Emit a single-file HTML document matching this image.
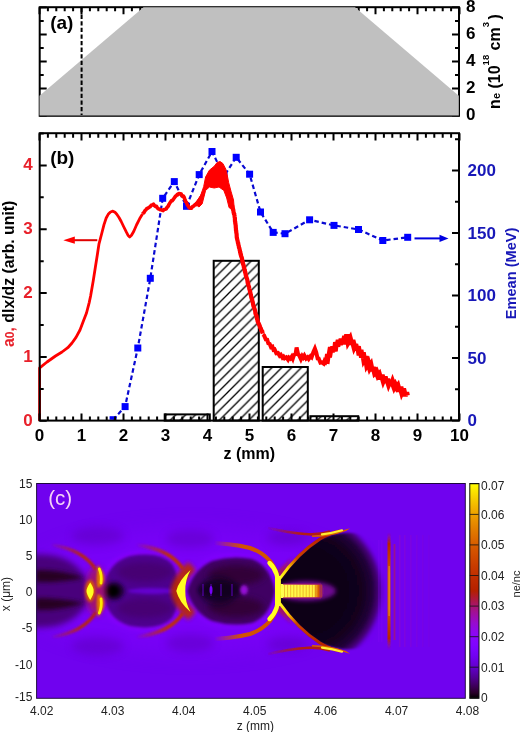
<!DOCTYPE html>
<html><head><meta charset="utf-8"><title>Figure</title>
<style>html,body{margin:0;padding:0;background:#fff;overflow:hidden;width:520px;height:732px;}svg{display:block;}</style></head>
<body><svg width="520" height="732" viewBox="0 0 520 732">
<rect width="520" height="732" fill="#fff"/>
<path d="M39.50 7.2v7M47.90 7.2v4M56.30 7.2v4M64.70 7.2v4M73.10 7.2v4M81.50 7.2v7M89.90 7.2v4M98.30 7.2v4M106.70 7.2v4M115.10 7.2v4M123.50 7.2v7M131.90 7.2v4M140.30 7.2v4M148.70 7.2v4M157.10 7.2v4M165.50 7.2v7M173.90 7.2v4M182.30 7.2v4M190.70 7.2v4M199.10 7.2v4M207.50 7.2v7M215.90 7.2v4M224.30 7.2v4M232.70 7.2v4M241.10 7.2v4M249.50 7.2v7M257.90 7.2v4M266.30 7.2v4M274.70 7.2v4M283.10 7.2v4M291.50 7.2v7M299.90 7.2v4M308.30 7.2v4M316.70 7.2v4M325.10 7.2v4M333.50 7.2v7M341.90 7.2v4M350.30 7.2v4M358.70 7.2v4M367.10 7.2v4M375.50 7.2v7M383.90 7.2v4M392.30 7.2v4M400.70 7.2v4M409.10 7.2v4M417.50 7.2v7M425.90 7.2v4M434.30 7.2v4M442.70 7.2v4M451.10 7.2v4M459.50 7.2v7" stroke="#000" stroke-width="2" fill="none"/>
<path d="M39.7 115.50h7M459 115.50h-7M39.7 102.00h4M459 102.00h-4M39.7 88.50h7M459 88.50h-7M39.7 75.00h4M459 75.00h-4M39.7 61.50h7M459 61.50h-7M39.7 48.00h4M459 48.00h-4M39.7 34.50h7M459 34.50h-7M39.7 21.00h4M459 21.00h-4M39.7 7.50h7M459 7.50h-7" stroke="#000" stroke-width="2" fill="none"/>
<rect x="39.7" y="7.2" width="419.3" height="108.6" fill="none" stroke="#000" stroke-width="2"/>
<polygon points="39.5,115.6 39.5,95.8 143.5,7.3 355,7.3 458.8,95.7 458.8,115.6" fill="#c0c0c0"/>
<line x1="81.6" y1="8" x2="81.6" y2="115" stroke="#000" stroke-width="2" stroke-dasharray="4.3 2.3"/>
<text x="50.2" y="28.8" font-family="Liberation Sans, Arial, sans-serif" font-weight="bold" font-size="19">(a)</text>
<text x="466" y="120.0" font-family="Liberation Sans, Arial, sans-serif" font-weight="bold" font-size="17">0</text>
<text x="466" y="93.0" font-family="Liberation Sans, Arial, sans-serif" font-weight="bold" font-size="17">2</text>
<text x="466" y="66.0" font-family="Liberation Sans, Arial, sans-serif" font-weight="bold" font-size="17">4</text>
<text x="466" y="39.0" font-family="Liberation Sans, Arial, sans-serif" font-weight="bold" font-size="17">6</text>
<text x="466" y="12.0" font-family="Liberation Sans, Arial, sans-serif" font-weight="bold" font-size="17">8</text>
<text transform="translate(499.5,61.5) rotate(-90)" text-anchor="middle" font-family="Liberation Sans, Arial, sans-serif" font-weight="bold" font-size="16">n<tspan font-size="11">e</tspan> (10<tspan font-size="9.5" dy="-10.5">18</tspan><tspan dy="10.5"> cm</tspan><tspan font-size="9.5" dy="-10.5">3</tspan><tspan dy="10.5" dx="2.5">)</tspan></text>
<defs><pattern id="hatch" patternUnits="userSpaceOnUse" width="9.8" height="9.8" patternTransform="translate(2.6,0)"><path d="M-2.45 2.45L2.45 -2.45M0 9.8L9.8 0M7.35 12.25L12.25 7.35" stroke="#000" stroke-width="1.3"/></pattern></defs>
<rect x="164.7" y="414.4" width="45.1" height="6.2" fill="url(#hatch)" stroke="#000" stroke-width="2"/>
<rect x="213.7" y="260.8" width="45.1" height="159.8" fill="url(#hatch)" stroke="#000" stroke-width="2"/>
<rect x="262.7" y="367" width="45.1" height="53.6" fill="url(#hatch)" stroke="#000" stroke-width="2"/>
<rect x="310.4" y="416.2" width="47.8" height="4.4" fill="url(#hatch)" stroke="#000" stroke-width="2"/>
<defs><clipPath id="cpb"><rect x="39.7" y="133.2" width="419.3" height="286.6"/></clipPath></defs><g clip-path="url(#cpb)">
<polyline points="113.1,419.7 125.1,406.6 137.8,348 150.3,278.3 162.7,198.3 174.3,181.6 186.5,206.3 199.2,174.6 212,151.5 224,176 236.2,157.3 249.6,174.2 260.5,212 273.2,232.4 285,233.7 309.6,219.8 334,225.4 358.5,229.5 382.8,240.5 407.7,237.3" fill="none" stroke="#0a0ad2" stroke-width="2.2" stroke-dasharray="4.5 3"/>
<rect x="109.6" y="416.2" width="7" height="7" fill="#0000ff"/>
<rect x="121.6" y="403.1" width="7" height="7" fill="#0000ff"/>
<rect x="134.3" y="344.5" width="7" height="7" fill="#0000ff"/>
<rect x="146.8" y="274.8" width="7" height="7" fill="#0000ff"/>
<rect x="159.2" y="194.8" width="7" height="7" fill="#0000ff"/>
<rect x="170.8" y="178.1" width="7" height="7" fill="#0000ff"/>
<rect x="183.0" y="202.8" width="7" height="7" fill="#0000ff"/>
<rect x="195.7" y="171.1" width="7" height="7" fill="#0000ff"/>
<rect x="208.5" y="148.0" width="7" height="7" fill="#0000ff"/>
<rect x="220.5" y="172.5" width="7" height="7" fill="#0000ff"/>
<rect x="232.7" y="153.8" width="7" height="7" fill="#0000ff"/>
<rect x="246.1" y="170.7" width="7" height="7" fill="#0000ff"/>
<rect x="257.0" y="208.5" width="7" height="7" fill="#0000ff"/>
<rect x="269.7" y="228.9" width="7" height="7" fill="#0000ff"/>
<rect x="281.5" y="230.2" width="7" height="7" fill="#0000ff"/>
<rect x="306.1" y="216.3" width="7" height="7" fill="#0000ff"/>
<rect x="330.5" y="221.9" width="7" height="7" fill="#0000ff"/>
<rect x="355.0" y="226.0" width="7" height="7" fill="#0000ff"/>
<rect x="379.3" y="237.0" width="7" height="7" fill="#0000ff"/>
<rect x="404.2" y="233.8" width="7" height="7" fill="#0000ff"/>
</g>
<line x1="414.5" y1="238.4" x2="442" y2="238.4" stroke="#0000e0" stroke-width="2"/>
<polygon points="448.5,238.4 439.5,234.8 439.5,242" fill="#0000e0"/>
<polyline points="39.6,421 39.6,368 40,367.6 47,362 55.5,356 62,352 67.8,347.7 72,343 76,337.4 80,330 83.4,321 86.5,313 89.2,302.6 90.6,296 93.2,281 95.4,267 97.3,255 99,243.8 101.6,234 104,224.6 106.2,218 108.2,214.3 110.5,212 112.9,211.2 115,212.3 116.8,214.2 119,217.5 121.2,221.5 123.6,226.5 126.4,232.2 128.2,235.6 129.7,237 131.5,235.3 133.8,231.3 136.5,225 139.6,218.8 142.5,214" fill="none" stroke="#ff0000" stroke-width="2.8" stroke-linejoin="round"/>
<polyline points="142.5,213.9 143.2,213.1 143.9,212.7 144.7,211.1 145.4,210.2 146.2,209.6 146.9,208.4 147.7,208.2 148.5,207.7 150.0,206.8 151.2,205.3 152.3,205.0 153.5,204.1 154.5,205.8 155.5,206.4 156.5,206.2 157.5,208.2 158.4,208.9 159.3,209.1 160.3,209.8 161.2,209.8 162.1,210.3 163.1,210.6 164.1,209.5 165.2,209.3 166.2,208.9 166.7,207.8 167.2,207.5 167.7,206.6 168.2,206.3 168.7,205.0 169.2,204.2 169.7,203.2 170.2,202.5 170.9,201.5 171.6,200.5 172.2,200.7 172.9,199.9 173.6,198.9 174.3,198.0 175.1,196.8 175.8,196.0 176.6,195.4 177.4,194.4 178.1,194.7 178.9,193.6 180.5,193.8 181.2,194.0 182.0,195.7 182.7,196.4 183.5,196.1 184.2,197.3 184.7,199.3 185.1,199.8 185.6,201.6 186.0,201.8 186.5,202.4 187.0,204.1 187.5,205.2 187.9,205.4 188.4,206.0 188.9,207.3 190.2,208.3 191.5,208.2 192.5,206.6 193.6,206.1 194.6,205.2 195.3,204.4 196.0,204.7 196.6,203.1 197.3,202.8 198.0,201.9 198.6,200.7 199.2,200.7 199.8,199.0 200.4,198.9 201.0,197.3 201.6,196.9 202.0,195.6 202.4,194.7 202.7,194.7 203.1,193.4 203.5,192.0" fill="none" stroke="#ff0000" stroke-width="3.6" stroke-linejoin="round"/>
<polygon points="195,204 200.8,195.2 203.7,186.5 205.6,177 209.4,170.2 214.2,166.3 217.1,162.5 220,161.5 222.9,163.5 225.8,169.2 227.2,175 228.7,182.7 231,191.3 233.5,200 234.4,210 229.1,207.7 226.7,198 223.8,190.4 219,187 214.2,188 209.4,187 205.6,190.4 202.2,203.8 199,207" fill="#ff0000" stroke="#ff0000" stroke-width="1"/>
<polyline points="232.0,205.2 232.2,206.3 232.4,207.2 232.6,208.3 232.8,208.8 233.0,209.9 233.2,209.2 233.4,210.8 233.6,212.5 233.8,212.8 234.0,214.1 234.2,213.5 234.4,214.9 234.5,215.4 234.6,216.7 234.7,217.6 234.8,217.3 234.9,218.5 234.9,219.4 235.0,221.4 235.1,221.9 235.2,221.6 235.3,223.6 235.4,223.2 235.5,224.9 235.6,224.8 235.7,225.4 235.8,227.8 235.8,227.4 235.9,228.2 236.0,230.4 236.1,231.0 236.2,230.7 236.3,232.8 236.4,232.8 236.5,233.9 236.6,233.8 236.7,236.0 236.7,236.3 236.8,237.6 236.9,238.3 237.0,238.0 237.1,238.9 237.2,239.4 237.4,240.2 237.6,240.8 237.8,242.0 238.0,243.3 238.2,243.0 238.4,245.1 238.6,245.2 238.8,246.0 239.0,247.7 239.2,247.8 239.4,248.3 239.6,249.4 239.8,250.6 239.9,250.2 240.1,252.7 240.3,251.8 240.5,253.9 240.7,254.8 240.9,254.1 241.1,256.3 241.3,256.3 241.5,257.5 241.7,257.3 241.9,258.1 242.1,259.1 242.3,261.3 242.5,260.7 242.7,262.5 242.9,263.6 243.1,264.4 243.3,264.2 243.5,265.0 243.7,266.1 243.9,267.3 244.1,266.9 244.3,268.8 244.5,269.7 244.7,270.6 244.9,269.9 245.0,272.3 245.2,271.6 245.4,272.8 245.6,274.1 245.8,275.4 246.0,275.2 246.2,277.0 246.4,277.1 246.6,277.5 246.8,278.3 247.0,278.8 247.2,279.5 247.4,280.4 247.6,282.1 247.8,283.5 248.0,282.8 248.2,283.3 248.4,285.8 248.6,285.8 248.8,286.3 249.0,286.8 249.2,288.3 249.4,289.5 249.6,289.6 249.8,290.3 249.9,290.5 250.1,292.8 250.3,292.0 250.5,293.6 250.7,295.0 250.9,294.5 251.1,296.4 251.3,297.6 251.5,297.8 251.7,298.9 251.9,298.4 252.1,299.8 252.3,300.1 252.5,302.1 252.7,301.9 252.9,303.0 253.1,304.7 253.3,305.3 253.5,306.3 253.7,306.1 254.0,306.9 254.2,308.2 254.4,308.5 254.6,308.9 254.8,309.9 255.0,310.2 255.2,311.4 255.4,313.3 255.6,314.0 255.8,314.2 256.0,314.8 256.2,315.2 256.5,315.6 256.7,316.7 256.9,318.4 257.1,319.3 257.3,319.2 257.5,320.7 257.7,321.5 258.0,322.1 258.3,322.9 258.7,323.8 259.0,323.9 259.3,325.3 259.6,325.3 259.9,326.4 260.2,327.7 260.6,328.4 260.9,328.4 261.2,330.4 261.5,330.6 261.8,331.3 262.2,331.1 262.5,332.8 262.8,333.5" fill="none" stroke="#ff0000" stroke-width="4.2" stroke-linejoin="round"/>
<polyline points="262.8,334.4 264.1,335.4 265.8,339.5 267.2,339.7 268.3,343.4 269.7,344.0 271.0,347.2 272.4,346.6 273.5,349.8 274.6,349.5 276.3,353.3 278.0,353.0 279.6,355.7 280.8,354.7 282.4,357.5 283.5,356.5 284.6,358.3 286.3,357.3 288.0,359.6 289.0,357.6 290.4,358.6 291.8,356.5 292.8,358.6 293.9,355.2 295.6,353.9 296.6,347.5 298.1,354.5 299.1,355.1 300.9,359.1 302.2,356.1 303.2,357.5 304.4,355.5 306.1,358.6 307.6,357.3 308.7,358.9 310.5,356.3 311.6,357.3 313.4,352.1 314.9,348.7 316.2,352.4 317.6,358.5 318.7,358.6 320.4,362.7 321.7,362.4 323.6,363.7 324.6,360.8 325.8,362.3 326.6,361.0" fill="none" stroke="#ff0000" stroke-width="4" stroke-linejoin="miter" stroke-miterlimit="3"/>
<polyline points="326.6,363.8 327.9,354.2 329.1,357.3 330.8,347.3 331.9,352.2 333.1,346.7 334.9,351.3 335.9,342.2 337.4,346.6 338.6,339.9 340.0,344.8 341.5,338.9 343.2,343.9 345.0,336.2 346.0,339.9 347.1,334.5 348.3,341.7 350.0,338.9 351.5,344.5 352.5,340.2 354.2,346.6 355.4,344.1 356.4,350.2 358.0,346.4 359.5,355.2 360.6,350.1 361.9,357.6 362.9,352.6 364.0,359.1 365.7,356.1 367.0,364.6 368.2,362.7 369.7,367.7 370.8,365.8 371.9,370.9 373.6,367.3 374.9,372.8 376.3,371.5 377.9,375.7 379.1,374.4 380.5,379.1 381.8,375.1 383.3,380.2 384.8,376.7 386.2,382.7 387.2,379.1 388.6,383.6 389.9,380.4 391.3,385.4 392.5,382.2 394.2,386.9 395.3,384.9 396.7,387.5 397.7,386.2 399.1,391.3 400.5,387.1 401.8,391.9 403.2,388.8 404.9,395.7 406.3,392.3 407.0,395.5" fill="none" stroke="#ff0000" stroke-width="5.8" stroke-linejoin="miter" stroke-miterlimit="3"/>
<line x1="70" y1="240.2" x2="97.3" y2="240.2" stroke="#e00000" stroke-width="2"/>
<polygon points="63.3,240.2 74.8,236.6 74.8,243.8" fill="#ff0000"/>
<path d="M39.50 133.2v7.3M47.90 133.2v4.5M56.30 133.2v4.5M64.70 133.2v4.5M73.10 133.2v4.5M81.50 133.2v7.3M89.90 133.2v4.5M98.30 133.2v4.5M106.70 133.2v4.5M115.10 133.2v4.5M123.50 133.2v7.3M131.90 133.2v4.5M140.30 133.2v4.5M148.70 133.2v4.5M157.10 133.2v4.5M165.50 133.2v7.3M173.90 133.2v4.5M182.30 133.2v4.5M190.70 133.2v4.5M199.10 133.2v4.5M207.50 133.2v7.3M215.90 133.2v4.5M224.30 133.2v4.5M232.70 133.2v4.5M241.10 133.2v4.5M249.50 133.2v7.3M257.90 133.2v4.5M266.30 133.2v4.5M274.70 133.2v4.5M283.10 133.2v4.5M291.50 133.2v7.3M299.90 133.2v4.5M308.30 133.2v4.5M316.70 133.2v4.5M325.10 133.2v4.5M333.50 133.2v7.3M341.90 133.2v4.5M350.30 133.2v4.5M358.70 133.2v4.5M367.10 133.2v4.5M375.50 133.2v7.3M383.90 133.2v4.5M392.30 133.2v4.5M400.70 133.2v4.5M409.10 133.2v4.5M417.50 133.2v7.3M425.90 133.2v4.5M434.30 133.2v4.5M442.70 133.2v4.5M451.10 133.2v4.5M459.50 133.2v7.3M39.50 420.6v-7M47.90 420.6v-4M56.30 420.6v-4M64.70 420.6v-4M73.10 420.6v-4M81.50 420.6v-7M89.90 420.6v-4M98.30 420.6v-4M106.70 420.6v-4M115.10 420.6v-4M123.50 420.6v-7M131.90 420.6v-4M140.30 420.6v-4M148.70 420.6v-4M157.10 420.6v-4M165.50 420.6v-7M173.90 420.6v-4M182.30 420.6v-4M190.70 420.6v-4M199.10 420.6v-4M207.50 420.6v-7M215.90 420.6v-4M224.30 420.6v-4M232.70 420.6v-4M241.10 420.6v-4M249.50 420.6v-7M257.90 420.6v-4M266.30 420.6v-4M274.70 420.6v-4M283.10 420.6v-4M291.50 420.6v-7M299.90 420.6v-4M308.30 420.6v-4M316.70 420.6v-4M325.10 420.6v-4M333.50 420.6v-7M341.90 420.6v-4M350.30 420.6v-4M358.70 420.6v-4M367.10 420.6v-4M375.50 420.6v-7M383.90 420.6v-4M392.30 420.6v-4M400.70 420.6v-4M409.10 420.6v-4M417.50 420.6v-7M425.90 420.6v-4M434.30 420.6v-4M442.70 420.6v-4M451.10 420.6v-4M459.50 420.6v-7" stroke="#000" stroke-width="2" fill="none"/>
<path d="M39.7 420.80h7M39.7 388.88h4M39.7 356.95h7M39.7 325.02h4M39.7 293.10h7M39.7 261.18h4M39.7 229.25h7M39.7 197.33h4M39.7 165.40h7M39.7 133.48h4M459 420.60h-7M459 389.34h-4M459 358.08h-7M459 326.81h-4M459 295.55h-7M459 264.29h-4M459 233.03h-7M459 201.76h-4M459 170.50h-7M459 139.24h-4" stroke="#000" stroke-width="2" fill="none"/>
<rect x="39.7" y="133.2" width="419.3" height="287.4" fill="none" stroke="#000" stroke-width="2"/>
<text x="50.2" y="163.9" font-family="Liberation Sans, Arial, sans-serif" font-weight="bold" font-size="19">(b)</text>
<text x="32.6" y="425.7" text-anchor="end" font-family="Liberation Sans, Arial, sans-serif" font-weight="bold" font-size="17" fill="#e8202a">0</text>
<text x="32.6" y="361.8" text-anchor="end" font-family="Liberation Sans, Arial, sans-serif" font-weight="bold" font-size="17" fill="#e8202a">1</text>
<text x="32.6" y="298.0" text-anchor="end" font-family="Liberation Sans, Arial, sans-serif" font-weight="bold" font-size="17" fill="#e8202a">2</text>
<text x="32.6" y="234.2" text-anchor="end" font-family="Liberation Sans, Arial, sans-serif" font-weight="bold" font-size="17" fill="#e8202a">3</text>
<text x="32.6" y="170.3" text-anchor="end" font-family="Liberation Sans, Arial, sans-serif" font-weight="bold" font-size="17" fill="#e8202a">4</text>
<text x="467.6" y="426.3" font-family="Liberation Sans, Arial, sans-serif" font-weight="bold" font-size="17" fill="#1818b8">0</text>
<text x="467.6" y="363.8" font-family="Liberation Sans, Arial, sans-serif" font-weight="bold" font-size="17" fill="#1818b8">50</text>
<text x="467.6" y="301.2" font-family="Liberation Sans, Arial, sans-serif" font-weight="bold" font-size="17" fill="#1818b8">100</text>
<text x="467.6" y="238.7" font-family="Liberation Sans, Arial, sans-serif" font-weight="bold" font-size="17" fill="#1818b8">150</text>
<text x="467.6" y="176.2" font-family="Liberation Sans, Arial, sans-serif" font-weight="bold" font-size="17" fill="#1818b8">200</text>
<text x="39.5" y="441.3" text-anchor="middle" font-family="Liberation Sans, Arial, sans-serif" font-weight="bold" font-size="17">0</text>
<text x="81.5" y="441.3" text-anchor="middle" font-family="Liberation Sans, Arial, sans-serif" font-weight="bold" font-size="17">1</text>
<text x="123.5" y="441.3" text-anchor="middle" font-family="Liberation Sans, Arial, sans-serif" font-weight="bold" font-size="17">2</text>
<text x="165.5" y="441.3" text-anchor="middle" font-family="Liberation Sans, Arial, sans-serif" font-weight="bold" font-size="17">3</text>
<text x="207.5" y="441.3" text-anchor="middle" font-family="Liberation Sans, Arial, sans-serif" font-weight="bold" font-size="17">4</text>
<text x="249.5" y="441.3" text-anchor="middle" font-family="Liberation Sans, Arial, sans-serif" font-weight="bold" font-size="17">5</text>
<text x="291.5" y="441.3" text-anchor="middle" font-family="Liberation Sans, Arial, sans-serif" font-weight="bold" font-size="17">6</text>
<text x="333.5" y="441.3" text-anchor="middle" font-family="Liberation Sans, Arial, sans-serif" font-weight="bold" font-size="17">7</text>
<text x="375.5" y="441.3" text-anchor="middle" font-family="Liberation Sans, Arial, sans-serif" font-weight="bold" font-size="17">8</text>
<text x="417.5" y="441.3" text-anchor="middle" font-family="Liberation Sans, Arial, sans-serif" font-weight="bold" font-size="17">9</text>
<text x="459.5" y="441.3" text-anchor="middle" font-family="Liberation Sans, Arial, sans-serif" font-weight="bold" font-size="17">10</text>
<text x="249.3" y="459.2" text-anchor="middle" font-family="Liberation Sans, Arial, sans-serif" font-weight="bold" font-size="16">z (mm)</text>
<text transform="translate(14.4,273.8) rotate(-90)" text-anchor="middle" font-family="Liberation Sans, Arial, sans-serif" font-weight="bold" font-size="15.8"><tspan fill="#e8202a">a<tspan font-size="12">0</tspan>,</tspan> dlx/dz (arb. unit)</text>
<text transform="translate(515.8,273.4) rotate(-90)" text-anchor="middle" font-family="Liberation Sans, Arial, sans-serif" font-weight="bold" font-size="14.6" fill="#1818b8">Emean (MeV)</text>
<defs>
<clipPath id="cp"><rect x="36.6" y="483.5" width="428.7" height="214.8"/></clipPath>
<filter id="b05" x="-50%" y="-50%" width="200%" height="200%"><feGaussianBlur stdDeviation="0.5"/></filter>
<filter id="b1" x="-50%" y="-50%" width="200%" height="200%"><feGaussianBlur stdDeviation="0.8"/></filter>
<filter id="b15" x="-50%" y="-50%" width="200%" height="200%"><feGaussianBlur stdDeviation="1.5"/></filter>
<filter id="b2" x="-50%" y="-50%" width="200%" height="200%"><feGaussianBlur stdDeviation="2"/></filter>
<filter id="b3" x="-50%" y="-50%" width="200%" height="200%"><feGaussianBlur stdDeviation="3"/></filter>
<filter id="b4" x="-50%" y="-50%" width="200%" height="200%"><feGaussianBlur stdDeviation="4"/></filter>
<filter id="b6" x="-50%" y="-50%" width="200%" height="200%"><feGaussianBlur stdDeviation="6"/></filter>
<filter id="b10" x="-50%" y="-50%" width="200%" height="200%"><feGaussianBlur stdDeviation="10"/></filter>
<linearGradient id="cb" x1="0" y1="0" x2="0" y2="1"><stop offset="0.000" stop-color="#ffff00"/><stop offset="0.025" stop-color="#fcec00"/><stop offset="0.050" stop-color="#f9db00"/><stop offset="0.075" stop-color="#f5ca00"/><stop offset="0.100" stop-color="#f2ba00"/><stop offset="0.125" stop-color="#efab00"/><stop offset="0.150" stop-color="#eb9d00"/><stop offset="0.175" stop-color="#e88f00"/><stop offset="0.200" stop-color="#e48300"/><stop offset="0.225" stop-color="#e07700"/><stop offset="0.250" stop-color="#dd6c00"/><stop offset="0.275" stop-color="#d96100"/><stop offset="0.300" stop-color="#d55700"/><stop offset="0.325" stop-color="#d24e00"/><stop offset="0.350" stop-color="#ce4600"/><stop offset="0.375" stop-color="#ca3e00"/><stop offset="0.400" stop-color="#c63700"/><stop offset="0.425" stop-color="#c13000"/><stop offset="0.450" stop-color="#bd2a00"/><stop offset="0.475" stop-color="#b92500"/><stop offset="0.500" stop-color="#b42000"/><stop offset="0.525" stop-color="#b01b28"/><stop offset="0.550" stop-color="#ab174f"/><stop offset="0.575" stop-color="#a61474"/><stop offset="0.600" stop-color="#a11096"/><stop offset="0.625" stop-color="#9c0db4"/><stop offset="0.650" stop-color="#970bce"/><stop offset="0.675" stop-color="#9109e3"/><stop offset="0.700" stop-color="#8c07f3"/><stop offset="0.725" stop-color="#8605fc"/><stop offset="0.750" stop-color="#8004ff"/><stop offset="0.775" stop-color="#7903fc"/><stop offset="0.800" stop-color="#7202f3"/><stop offset="0.825" stop-color="#6b01e3"/><stop offset="0.850" stop-color="#6301ce"/><stop offset="0.875" stop-color="#5a00b4"/><stop offset="0.900" stop-color="#510096"/><stop offset="0.925" stop-color="#460074"/><stop offset="0.950" stop-color="#39004f"/><stop offset="0.975" stop-color="#280028"/><stop offset="1.000" stop-color="#000000"/></linearGradient>
<radialGradient id="b4g" gradientUnits="userSpaceOnUse" cx="305" cy="591" r="80"><stop offset="0" stop-color="#0a0010"/><stop offset="0.7" stop-color="#12001c"/><stop offset="0.84" stop-color="#22003a"/><stop offset="0.92" stop-color="#470079"/><stop offset="0.97" stop-color="#6501d5"/><stop offset="1" stop-color="#7002ef"/></radialGradient>
<linearGradient id="beam" x1="0" y1="0" x2="1" y2="0"><stop offset="0" stop-color="#ffff50"/><stop offset="0.75" stop-color="#fff040"/><stop offset="0.86" stop-color="#d85d00"/><stop offset="1" stop-color="#a11096" stop-opacity="0"/></linearGradient>
<linearGradient id="vs" x1="0" y1="0" x2="0" y2="1"><stop offset="0" stop-color="#a7146f" stop-opacity="0"/><stop offset="0.1" stop-color="#b72300"/><stop offset="0.35" stop-color="#d35200"/><stop offset="0.65" stop-color="#d35200"/><stop offset="0.9" stop-color="#b72300"/><stop offset="1" stop-color="#a7146f" stop-opacity="0"/></linearGradient>
<linearGradient id="a1" gradientUnits="userSpaceOnUse" x1="50" y1="0" x2="82" y2="0"><stop offset="0" stop-color="#bc2900" stop-opacity="0.0"/><stop offset="1" stop-color="#bc2900" stop-opacity="1"/></linearGradient>
<linearGradient id="a2" gradientUnits="userSpaceOnUse" x1="136" y1="0" x2="168" y2="0"><stop offset="0" stop-color="#c13000" stop-opacity="0.0"/><stop offset="1" stop-color="#c13000" stop-opacity="1"/></linearGradient>
<linearGradient id="a3" gradientUnits="userSpaceOnUse" x1="214" y1="0" x2="242" y2="0"><stop offset="0" stop-color="#d35200" stop-opacity="0.0"/><stop offset="1" stop-color="#d35200" stop-opacity="1"/></linearGradient>
<linearGradient id="a4" gradientUnits="userSpaceOnUse" x1="266" y1="0" x2="300" y2="0"><stop offset="0" stop-color="#b21d17" stop-opacity="0"/><stop offset="1" stop-color="#b21d17" stop-opacity="1"/></linearGradient>
<linearGradient id="armT" gradientUnits="userSpaceOnUse" x1="280" y1="579" x2="320" y2="536"><stop offset="0" stop-color="#ffff20"/><stop offset="0.22" stop-color="#ffd000"/><stop offset="0.45" stop-color="#cc4400"/><stop offset="1" stop-color="#b72300"/></linearGradient>
<linearGradient id="armB" gradientUnits="userSpaceOnUse" x1="280" y1="603" x2="320" y2="646"><stop offset="0" stop-color="#ffff20"/><stop offset="0.22" stop-color="#ffd000"/><stop offset="0.45" stop-color="#cc4400"/><stop offset="1" stop-color="#b72300"/></linearGradient>
</defs>
<g clip-path="url(#cp)">
<rect x="36.6" y="483.5" width="428.7" height="214.8" fill="#7002ef"/>
<ellipse cx="190" cy="591" rx="175" ry="62" fill="#8104ff" opacity="0.5" filter="url(#b10)"/>
<ellipse cx="98" cy="536" rx="26" ry="9" fill="#5b01b8" opacity="0.45" filter="url(#b4)"/>
<ellipse cx="190" cy="539" rx="24" ry="9" fill="#5b01b8" opacity="0.45" filter="url(#b4)"/>
<ellipse cx="98" cy="646" rx="26" ry="9" fill="#5b01b8" opacity="0.45" filter="url(#b4)"/>
<ellipse cx="190" cy="643" rx="24" ry="9" fill="#5b01b8" opacity="0.45" filter="url(#b4)"/>
<ellipse cx="287" cy="538" rx="20" ry="7" fill="#5b01b8" opacity="0.45" filter="url(#b4)"/>
<ellipse cx="287" cy="644" rx="20" ry="7" fill="#5b01b8" opacity="0.45" filter="url(#b4)"/>
<path d="M30,555 Q72,551 87,580 L88,602 Q72,631 30,627Z" fill="#48007b" filter="url(#b3)"/>
<path d="M36,570 Q60,569 84,578 Q60,583 36,582Z M36,610 Q60,611 84,603 Q60,598 36,598Z" fill="#250022" filter="url(#b2)"/>
<path d="M100,591 Q102,560 130,552.5 Q162,547 175,562 Q183,577 182,591 Q183,605 175,620 Q162,635 130,629.5 Q102,622 100,591Z" fill="#8505fd" filter="url(#b2)"/>
<path d="M103,591 Q106,563 130,556 Q160,551 172,564 Q179.5,577 179,591 Q179.5,605 172,618 Q160,631 130,626 Q106,619 103,591Z" fill="#4e008e" filter="url(#b15)"/>
<ellipse cx="145" cy="572" rx="28" ry="10" fill="#460073" filter="url(#b3)"/>
<ellipse cx="145" cy="608" rx="28" ry="10" fill="#460073" filter="url(#b3)"/>
<ellipse cx="152" cy="591" rx="24" ry="3" fill="#6e02ea" opacity="0.7" filter="url(#b15)"/>
<ellipse cx="114" cy="591" rx="10" ry="9" fill="#140028" filter="url(#b2)"/>
<ellipse cx="113" cy="591" rx="5.5" ry="5" fill="#000" filter="url(#b15)"/>
<path d="M184,591 Q190,566 212,557 Q232,551 252,555 Q272,562 279,591 Q272,620 252,627 Q232,631 212,625 Q190,616 184,591Z" fill="#8104ff" filter="url(#b2)"/>
<path d="M187,591 Q194,569 212,561 Q232,555 252,559 Q270,566 275,591 Q270,616 252,623 Q232,627 212,621 Q194,613 187,591Z" fill="#410064" filter="url(#b15)"/>
<ellipse cx="236" cy="575" rx="28" ry="10" fill="#300039" filter="url(#b3)"/>
<ellipse cx="236" cy="607" rx="28" ry="10" fill="#300039" filter="url(#b3)"/>
<ellipse cx="218" cy="591" rx="18" ry="14" fill="#100020" opacity="0.7" filter="url(#b3)"/>
<ellipse cx="222" cy="590" rx="24" ry="8" fill="#0a0012" opacity="0.7" filter="url(#b2)"/>
<path d="M203,584v12M211,584v12M221,584v12M232,584v12" stroke="#6001c7" stroke-width="1.6" opacity="0.6" filter="url(#b05)"/>
<ellipse cx="244" cy="590" rx="4" ry="5" fill="#950ad5" filter="url(#b15)"/>
<ellipse cx="211" cy="590" rx="1.5" ry="4" fill="#7603f9" filter="url(#b05)"/>
<path d="M279,579 Q298,553 320,539 Q355,525 373,542 Q385,560 385,591 Q385,622 373,640 Q355,657 320,643 Q298,629 279,603 Z" fill="url(#b4g)" filter="url(#b1)"/>
<path d="M52,545 Q84,550 96,570 M52,637 Q84,632 96,612" stroke="url(#a1)" stroke-width="3.2" fill="none" filter="url(#b1)"/>
<path d="M136,545 Q170,549 183,569 M136,637 Q170,633 183,613" stroke="url(#a2)" stroke-width="3.6" fill="none" filter="url(#b1)"/>
<path d="M205,543 Q230,543 250,548 Q262,552 270,561 Q277,570 279,582 M205,639 Q230,639 250,634 Q262,630 270,621 Q277,612 279,600" stroke="url(#a3)" stroke-width="4" fill="none" filter="url(#b05)"/>
<ellipse cx="96" cy="591" rx="10" ry="24" fill="#ac1844" opacity="0.75" filter="url(#b3)"/>
<ellipse cx="90.2" cy="591" rx="5" ry="11" fill="#d85d00" filter="url(#b15)"/>
<path d="M90.2,582.5 Q94,588 93.6,591 Q94,594 90.2,600 Q86.5,594 86.5,591 Q86.5,588 90.2,582.5Z" fill="#ffff20" filter="url(#b05)"/>
<path d="M98,565 Q105,573 104,581 Q102,587 97.5,588 Q95.5,580 98,565Z M98,617 Q105,609 104,601 Q102,595 97.5,594 Q95.5,602 98,617Z" fill="#e07500" filter="url(#b1)"/>
<path d="M99.3,569 Q102,575 101,583 M99.3,613 Q102,607 101,599" stroke="#fbea00" stroke-width="2.8" stroke-linecap="round" fill="none" filter="url(#b05)"/>
<path d="M192,566 Q178,579 176,591 Q178,603 192,616" stroke="#bc2900" stroke-width="11" fill="none" opacity="0.9" filter="url(#b2)"/>
<path d="M190.5,570 Q179,580 176.3,591 Q179,602 190.5,612 Q185,602 185.3,591 Q185,580 190.5,570Z" fill="#ffff20" filter="url(#b05)"/>
<path d="M276,572 Q283,566 292,558 Q286,570 281,578Z M276,610 Q283,616 292,624 Q286,612 281,604Z" fill="#ac1844" opacity="0.8" filter="url(#b15)"/>
<path d="M279.5,579 Q298,553 320,539 Q330,533 340,531" stroke="url(#armT)" stroke-width="3" fill="none" filter="url(#b05)"/>
<path d="M279.5,603 Q298,629 320,643 Q330,649 340,651" stroke="url(#armB)" stroke-width="3" fill="none" filter="url(#b05)"/>
<path d="M268,528 Q290,533 305,534 Q318,535.5 330,531.5 M268,654 Q290,649 305,648 Q318,646.5 330,650.5" stroke="url(#a4)" stroke-width="2.6" fill="none" filter="url(#b05)"/>
<path d="M312,535.5 Q330,534.5 350,528.2 L346,531 Q330,537 312,537Z M312,646.5 Q330,647.5 350,653.8 L346,651 Q330,645 312,645Z" fill="#d85d00" filter="url(#b05)"/>
<path d="M322,534.3 Q333,533 342,530.3" stroke="#ffee30" stroke-width="2.2" stroke-linecap="round" fill="none" filter="url(#b05)"/>
<path d="M322,647.7 Q333,649 342,651.7" stroke="#ffee30" stroke-width="2.2" stroke-linecap="round" fill="none" filter="url(#b05)"/>
<ellipse cx="306" cy="591" rx="30" ry="10" fill="#980cc7" opacity="0.7" filter="url(#b2)"/>
<path d="M281,584 L322,584.5 Q327,591 322,597.5 L281,598 Z" fill="url(#beam)" filter="url(#b05)"/>
<path d="M284.5,584.5v13M287.6,584.5v13M290.7,584.5v13M293.8,584.5v13M296.9,584.5v13M300.0,584.5v13M303.1,584.5v13M306.2,584.5v13M309.3,584.5v13M312.4,584.5v13M315.5,584.5v13M318.6,584.5v13M321.7,584.5v13" stroke="#d85d00" stroke-width="0.8" opacity="0.5"/>
<path d="M283,584.2H321M283,597.8H321" stroke="#a7146f" stroke-width="1.2" opacity="0.8"/>
<path d="M269.5,563 Q274,567 276.5,574 Q278.5,581 278.5,591 Q278.5,601 276.5,608 Q274,615 269.5,619" stroke="#ffff20" stroke-width="4.4" stroke-linecap="round" fill="none" filter="url(#b05)"/>
<rect x="275" y="576" width="5.8" height="30" fill="#ffff20" filter="url(#b05)"/>
<rect x="378" y="540" width="1.5" height="102" fill="#8806f9" opacity="0.25"/>
<rect x="381" y="540" width="1.5" height="102" fill="#8806f9" opacity="0.25"/>
<rect x="387.5" y="532" width="3" height="118" rx="1.5" fill="url(#vs)" filter="url(#b05)"/>
<rect x="388.6" y="566" width="1" height="50" fill="#ffd040" opacity="0.55"/>
<rect x="393.6" y="544" width="1.8" height="96" fill="#a7146f" opacity="0.75" filter="url(#b05)"/>
<rect x="399" y="535" width="1.6" height="112" fill="#9b0db8" opacity="0.35"/>
<rect x="404" y="535" width="1.6" height="112" fill="#9b0db8" opacity="0.3"/>
<rect x="410" y="535" width="1.6" height="112" fill="#9b0db8" opacity="0.25"/>
<rect x="416" y="535" width="1.6" height="112" fill="#9b0db8" opacity="0.2"/>
<rect x="422" y="535" width="1.6" height="112" fill="#9b0db8" opacity="0.15"/>
<rect x="428" y="535" width="1.6" height="112" fill="#9b0db8" opacity="0.1"/>
</g>
<rect x="36.6" y="483.5" width="428.7" height="214.8" fill="none" stroke="#1e0840" stroke-width="1"/>
<rect x="469.8" y="483.5" width="9.2" height="214.8" fill="url(#cb)" stroke="#111" stroke-width="1"/>
<path d="M469.8,697.8h8.8M469.8,667.2h8.8M469.8,636.7h8.8M469.8,606.1h8.8M469.8,575.5h8.8M469.8,544.9h8.8M469.8,514.4h8.8M469.8,483.8h8.8" stroke="#111" stroke-width="1" opacity="0.8"/>
<text x="481" y="702.1" font-family="Liberation Sans, Arial, sans-serif" font-size="12" fill="#222">0</text>
<text x="481" y="671.5" font-family="Liberation Sans, Arial, sans-serif" font-size="12" fill="#222">0.01</text>
<text x="481" y="641.0" font-family="Liberation Sans, Arial, sans-serif" font-size="12" fill="#222">0.02</text>
<text x="481" y="610.4" font-family="Liberation Sans, Arial, sans-serif" font-size="12" fill="#222">0.03</text>
<text x="481" y="579.8" font-family="Liberation Sans, Arial, sans-serif" font-size="12" fill="#222">0.04</text>
<text x="481" y="549.2" font-family="Liberation Sans, Arial, sans-serif" font-size="12" fill="#222">0.05</text>
<text x="481" y="518.7" font-family="Liberation Sans, Arial, sans-serif" font-size="12" fill="#222">0.06</text>
<text x="481" y="490.4" font-family="Liberation Sans, Arial, sans-serif" font-size="12" fill="#222">0.07</text>
<text x="32.4" y="487.9" text-anchor="end" font-family="Liberation Sans, Arial, sans-serif" font-size="12" fill="#222">15</text>
<text x="32.4" y="524.1" text-anchor="end" font-family="Liberation Sans, Arial, sans-serif" font-size="12" fill="#222">10</text>
<text x="32.4" y="559.8" text-anchor="end" font-family="Liberation Sans, Arial, sans-serif" font-size="12" fill="#222">5</text>
<text x="32.4" y="596.1" text-anchor="end" font-family="Liberation Sans, Arial, sans-serif" font-size="12" fill="#222">0</text>
<text x="32.4" y="632.3" text-anchor="end" font-family="Liberation Sans, Arial, sans-serif" font-size="12" fill="#222">-5</text>
<text x="32.4" y="668.5" text-anchor="end" font-family="Liberation Sans, Arial, sans-serif" font-size="12" fill="#222">-10</text>
<text x="32.4" y="701.3" text-anchor="end" font-family="Liberation Sans, Arial, sans-serif" font-size="12" fill="#222">-15</text>
<text x="41.8" y="715.1" text-anchor="middle" font-family="Liberation Sans, Arial, sans-serif" font-size="12" fill="#222">4.02</text>
<text x="112.8" y="715.1" text-anchor="middle" font-family="Liberation Sans, Arial, sans-serif" font-size="12" fill="#222">4.03</text>
<text x="183.7" y="715.1" text-anchor="middle" font-family="Liberation Sans, Arial, sans-serif" font-size="12" fill="#222">4.04</text>
<text x="254.7" y="715.1" text-anchor="middle" font-family="Liberation Sans, Arial, sans-serif" font-size="12" fill="#222">4.05</text>
<text x="325.6" y="715.1" text-anchor="middle" font-family="Liberation Sans, Arial, sans-serif" font-size="12" fill="#222">4.06</text>
<text x="396.6" y="715.1" text-anchor="middle" font-family="Liberation Sans, Arial, sans-serif" font-size="12" fill="#222">4.07</text>
<text x="467.5" y="715.1" text-anchor="middle" font-family="Liberation Sans, Arial, sans-serif" font-size="12" fill="#222">4.08</text>
<text x="255.4" y="729.5" text-anchor="middle" font-family="Liberation Sans, Arial, sans-serif" font-size="12" fill="#222">z (mm)</text>
<text transform="translate(10,594) rotate(-90)" text-anchor="middle" font-family="Liberation Sans, Arial, sans-serif" font-size="12" fill="#222">x (μm)</text>
<text transform="translate(519.5,584) rotate(-90)" text-anchor="middle" font-family="Liberation Sans, Arial, sans-serif" font-size="11" fill="#222">ne/nc</text>
<text x="48.2" y="505.4" font-family="Liberation Sans, Arial, sans-serif" font-size="20.5" fill="#f6d2f6">(c)</text>
</svg></body></html>
